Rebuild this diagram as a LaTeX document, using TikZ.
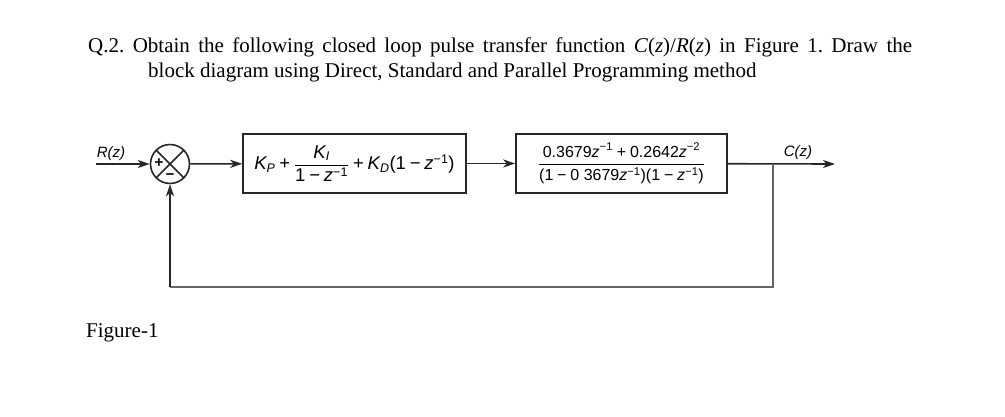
\documentclass[tikz,border=0pt]{standalone}
\usepackage{amsmath}
\usepackage{fontspec}
\setmainfont{Liberation Serif}
\setsansfont{Liberation Sans}
\usetikzlibrary{arrows.meta}
\DeclareMathSizes{18.5}{18.5}{12.5}{9}
\newcommand{\sv}[1]{\text{\sffamily\itshape #1}}
\newcommand{\sn}[1]{\text{\sffamily #1}}
\newcommand{\pl}{\mathbin{\sn{+}}}
\newcommand{\mi}{\mathbin{\sn{\char"2212}}}
\tikzset{
  wire/.style = {draw=black!85, line width=1.6pt},
  sig/.style = {wire, -{Stealth[length=12pt,width=8pt,inset=3.5pt]}},
  back/.style = {draw=black!60, line width=1.1pt},
  blk/.style = {draw=black!85, line width=1.6pt, rectangle, inner sep=0pt},
  lbl/.style = {font=\fontsize{15}{17}\selectfont\sffamily\itshape},
  sgn/.style = {font=\fontsize{15}{15}\selectfont\sffamily\bfseries, inner sep=0pt},
  ttl/.style = {anchor=base west, inner sep=0pt, font=\fontsize{21}{25}\selectfont}
}

\begin{document}
\frenchspacing
\begin{tikzpicture}[x=1pt,y=-1pt]

  \useasboundingbox (0,0) rectangle (1005,416);

  \node[ttl] (q1) at (88,52) {\makebox[824pt][s]{Q.2. Obtain the following closed loop pulse transfer function \textit{C}(\textit{z})/\textit{R}(\textit{z}) in Figure 1. Draw the}};
  \node[ttl] (q2) at (148,77) {block diagram using Direct, Standard and Parallel Programming method};
  \node[ttl] (fig) at (86,337) {Figure-1};

  \node[draw=black!85, line width=1.6pt, circle, minimum size=39pt, inner sep=0pt] (sum) at (170,164) {};
  \draw[wire] (sum.north west) -- (sum.south east);
  \draw[wire] (sum.north east) -- (sum.south west);
  \node[sgn] (plus) at (159,163.5) {+};
  \node[sgn] (minus) at (170,176.5) {\char"2212};

  \node[blk, minimum width=223pt, minimum height=59pt, font=\fontsize{18.5}{20}\selectfont\sffamily] (pid) at (354.5,163.5)
    {$\sv{K}_{\sv{P}} \pl \dfrac{\sv{K}_{\sv{I}}}{\sn{1} \mi \sv{z}^{\mi\sn{1}}} \pl \sv{K}_{\sv{D}}\sn{(1} \mi \sv{z}^{\mi\sn{1}}\sn{)}$};
  \node[blk, minimum width=211pt, minimum height=59pt, font=\fontsize{16}{18}\selectfont\sffamily] (plant) at (621.5,163.5)
    {$\dfrac{\sn{0.3679}\sv{z}^{\mi\sn{1}} \pl \sn{0.2642}\sv{z}^{\mi\sn{2}}}{\sn{(1} \mi \sn{0 3679}\sv{z}^{\mi\sn{1}}\sn{)(1} \mi \sv{z}^{\mi\sn{1}}\sn{)}}$};

  \coordinate (in) at (96,164);
  \coordinate (out) at (835,164);
  \coordinate (branch) at (773,164);
  \coordinate (fb) at (170,287);

  \node[lbl] (R) at (111,154) {R(z)};
  \node[lbl] (C) at (798,153) {C(z)};

  \draw[sig] (in) -- (sum);
  \draw[sig] (sum) -- (pid);
  \draw[sig] (pid) -- (plant);
  \draw[sig] (plant) -- (out);
  \draw[back] (branch) |- (fb);
  \draw[sig] (fb) -- (sum);

\end{tikzpicture}
\end{document}
